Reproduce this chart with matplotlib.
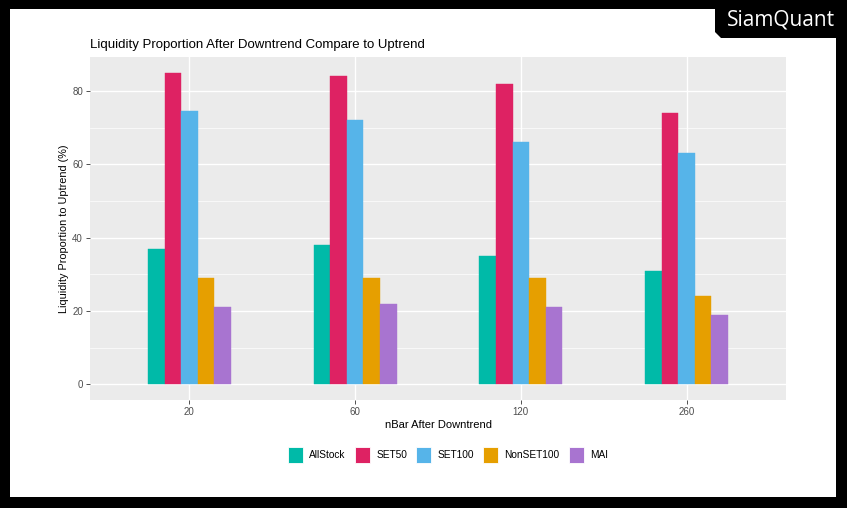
import numpy as np
import matplotlib
matplotlib.use("Agg")
import matplotlib.pyplot as plt
from matplotlib.patches import Rectangle, Polygon, Patch

plt.rcParams['font.family'] = ['Liberation Sans', 'DejaVu Sans']

# data
nbars = ["20", "60", "120", "260"]
groups = ["AllStock", "SET50", "SET100", "NonSET100", "MAI"]
allstock = [37, 38, 35, 31]
set50 = [85, 84, 82, 74]
set100 = [74.5, 72, 66, 63]
nonset100 = [29, 29, 29, 24]
mai = [21, 22, 21, 19]
series = [allstock, set50, set100, nonset100, mai]
colors = ["#00BAA8", "#DE2263", "#56B4E9", "#E69F00", "#A874D0"]

W, H = 847, 508
fig = plt.figure(figsize=(W / 100, H / 100), dpi=100, facecolor="black")

# white card + logo tab (pixel coords -> figure fraction)
def fx(px):
    return px / W

def fy(py):
    return 1 - py / H

fig.patches.append(Rectangle((fx(10), fy(497)), fx(826), (497 - 9) / H,
                             transform=fig.transFigure, facecolor="white",
                             edgecolor="none", zorder=0))
fig.patches.append(Polygon([(fx(715), fy(0)), (fx(847), fy(0)), (fx(847), fy(38)),
                            (fx(721), fy(38)), (fx(715), fy(32))],
                           closed=True, transform=fig.transFigure,
                           facecolor="black", edgecolor="none", zorder=1))
fig.text(fx(781), fy(20), "SiamQuant", color="white", fontsize=15,
         family="Open Sans", ha="center", va="center")

# plot panel
ax = fig.add_axes([fx(90), fy(400), fx(786) - fx(90), (400 - 57) / H])
ax.set_zorder(5)
ax.set_facecolor("#EBEBEB")

x = np.arange(1, len(nbars) + 1)
bw = 0.1
for i, (vals, c) in enumerate(zip(series, colors)):
    ax.bar(x + (i - 2) * bw, vals, width=bw, color=c, edgecolor=c,
           linewidth=0.3, zorder=3, label=groups[i])

ax.set_xlim(0.4, 4.6)
ax.set_ylim(-4.25, 89.25)
ax.set_xticks(x)
ax.set_xticklabels(nbars)
ax.set_yticks([0, 20, 40, 60, 80])
ax.set_yticks([10, 30, 50, 70], minor=True)
ax.grid(which="major", color="white", linewidth=1.0, zorder=0)
ax.grid(which="minor", axis="y", color="white", linewidth=0.5, zorder=0)
ax.set_axisbelow(True)
for s in ax.spines.values():
    s.set_visible(False)
ax.tick_params(axis="both", which="major", length=3, width=0.6, color="#333333",
               labelcolor="#4D4D4D", labelsize=7, pad=2)
ax.tick_params(axis="y", which="minor", length=0)

ax.set_xlabel("nBar After Downtrend", fontsize=8, color="black", labelpad=2)
ax.set_ylabel("Liquidity Proportion to Uptrend (%)", fontsize=7.8, color="black",
              labelpad=2)
fig.text(fx(90), fy(45), "Liquidity Proportion After Downtrend Compare to Uptrend",
         fontsize=9.5, color="black", ha="left", va="center", zorder=6)

handles = [Patch(facecolor=c, edgecolor="white", linewidth=0.6) for c in colors]
leg = fig.legend(handles, groups, loc="center", bbox_to_anchor=(fx(448), fy(455)),
                 ncol=5, frameon=False, fontsize=7.3, handlelength=1.5,
                 handleheight=2.0, handletextpad=0.6, columnspacing=0.9)
leg.set_zorder(6)

fig.savefig("out.png", dpi=100, facecolor="black")
